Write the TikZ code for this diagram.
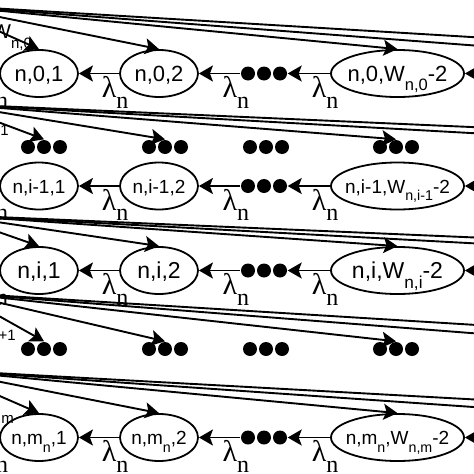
\documentclass[tikz,border=0pt]{standalone}
\usepackage{fontspec}
\setmainfont{Liberation Sans}
\newfontfamily\lamfont{Liberation Serif}
\usepackage{graphicx}
\usetikzlibrary{shapes.geometric,arrows.meta}
\newcommand\sbs[1]{\raisebox{-0.42em}[0pt][0pt]{\scalebox{0.75}{#1}}}
\newcommand\lamn{{\lamfont λ\raisebox{-0.36em}[0pt][0pt]{\scalebox{0.8}{n}}}}
\newcommand\wl[1]{W\raisebox{-10pt}[0pt][0pt]{\fontsize{15}{15}\selectfont #1}}

\begin{document}
\begin{tikzpicture}[
  x=1pt, y=-1pt,
  state/.style={ellipse, draw, line width=1.8pt, inner xsep=-30pt, inner ysep=-10pt,
    minimum width=78pt, minimum height=47pt, font=\fontsize{22}{24}\selectfont,
    text height=16pt, text depth=0pt},
  wide/.style={minimum width=133pt},
  small/.style={font=\fontsize{19}{21}\selectfont, text height=14pt},
  big/.style={font=\fontsize{23}{25}\selectfont, text height=16.5pt},
  dotrow/.style={minimum width=47pt, minimum height=15pt, inner sep=0pt,
    path picture={\fill ([xshift=-16pt]path picture bounding box.center) circle (7pt)
      (path picture bounding box.center) circle (7pt)
      ([xshift=16pt]path picture bounding box.center) circle (7pt);}},
  arr/.style={line width=1.9pt, -{Stealth[length=14pt,width=16pt,inset=3pt]}},
  lam/.style={anchor=north west, inner sep=2pt, font=\fontsize{30}{32}\selectfont},
  wlab/.style={font=\fontsize{20}{22}\selectfont, inner sep=0pt}
]
  \useasboundingbox (0,0) rectangle (474,474);
  \clip (0,0) rectangle (474,474);

  \node[state] (n01) at (39,73.5) {n,0,1};
  \node[state] (n02) at (159,73.5) {n,0,2};
  \node[dotrow] (d0) at (264,73.5) {};
  \node[state,wide] (n0w) at (397.5,73.5) {n,0,W\sbs{n,0}-2};

  \node[dotrow] (e1) at (44,147) {};
  \node[dotrow] (e2) at (165,147) {};
  \node[dotrow] (e3) at (266,147) {};
  \node[dotrow] (e4) at (396,147) {};

  \node[state,small] (a1) at (39,186) {n,i-1,1};
  \node[state,small] (a2) at (159,186) {n,i-1,2};
  \node[dotrow] (ad) at (264,186) {};
  \node[state,small,wide] (aw) at (397.5,186) {n,i-1,W\sbs{n,i-1}-2};

  \node[state,big] (b1) at (39,270.5) {n,i,1};
  \node[state,big] (b2) at (159,270.5) {n,i,2};
  \node[dotrow] (bd) at (264,270.5) {};
  \node[state,big,wide] (bw) at (397.5,270.5) {n,i,W\sbs{n,i}-2};

  \node[dotrow] (f1) at (44,349) {};
  \node[dotrow] (f2) at (165,349) {};
  \node[dotrow] (f3) at (266,349) {};
  \node[dotrow] (f4) at (396,349) {};

  \node[state,small] (c1) at (39,437.5) {n,m\sbs{n},1};
  \node[state,small] (c2) at (159,437.5) {n,m\sbs{n},2};
  \node[dotrow] (cd) at (264,437.5) {};
  \node[state,small,wide] (cw) at (397.5,437.5) {n,m\sbs{n},W\sbs{n,m}-2};

  \coordinate (l0) at (-42,73.5);
  \coordinate (r0) at (540,73.5);
  \coordinate (l1) at (-42,186);
  \coordinate (r1) at (540,186);
  \coordinate (l2) at (-42,270.5);
  \coordinate (r2) at (540,270.5);
  \coordinate (l3) at (-42,437.5);
  \coordinate (r3) at (540,437.5);

  \draw[arr] (n01) -- node[lam] {\lamn} (l0);
  \draw[arr] (n02) -- node[lam] {\lamn} (n01);
  \draw[arr] (d0) -- node[lam] {\lamn} (n02);
  \draw[arr] (n0w) -- node[lam] {\lamn} (d0);
  \draw[arr] (r0) -- (n0w);

  \draw[arr] (a1) -- node[lam] {\lamn} (l1);
  \draw[arr] (a2) -- node[lam] {\lamn} (a1);
  \draw[arr] (ad) -- node[lam] {\lamn} (a2);
  \draw[arr] (aw) -- node[lam] {\lamn} (ad);
  \draw[arr] (r1) -- (aw);

  \draw[arr] (b1) -- node[lam] {\lamn} (l2);
  \draw[arr] (b2) -- node[lam] {\lamn} (b1);
  \draw[arr] (bd) -- node[lam] {\lamn} (b2);
  \draw[arr] (bw) -- node[lam] {\lamn} (bd);
  \draw[arr] (r2) -- (bw);

  \draw[arr] (c1) -- node[lam] {\lamn} (l3);
  \draw[arr] (c2) -- node[lam] {\lamn} (c1);
  \draw[arr] (cd) -- node[lam] {\lamn} (c2);
  \draw[arr] (cw) -- node[lam] {\lamn} (cd);
  \draw[arr] (r3) -- (cw);

  \coordinate (sA) at (-60,5);
  \coordinate (tA1) at (560,52);
  \coordinate (tA2) at (720,52);
  \draw (sA) edge[arr] (n01.north) edge[arr] (n02.north) edge[arr] (n0w.north)
    edge[arr] (tA1) edge[arr] (tA2);

  \coordinate (sB) at (-50,104);
  \coordinate (tB1) at (560,138);
  \coordinate (tB2) at (720,138);
  \draw (sB) edge[arr] (e1.north) edge[arr] (e2.north) edge[arr] (e4.north)
    edge[arr] (tB1) edge[arr] (tB2);

  \coordinate (sC) at (-50,215);
  \coordinate (tC1) at (560,248);
  \coordinate (tC2) at (720,248);
  \draw (sC) edge[arr] (b1.north) edge[arr] (b2.north) edge[arr] (bw.north)
    edge[arr] (tC1) edge[arr] (tC2);

  \coordinate (sD) at (-42,293);
  \coordinate (tD1) at (560,340);
  \coordinate (tD2) at (720,340);
  \draw (sD) edge[arr] (f1.north) edge[arr] (f2.north) edge[arr] (f4.north)
    edge[arr] (tD1) edge[arr] (tD2);

  \coordinate (sE) at (-60,370);
  \coordinate (tE1) at (560,413);
  \coordinate (tE2) at (720,413);
  \draw (sE) edge[arr] (c1.north) edge[arr] (c2.north) edge[arr] (cw.north)
    edge[arr] (tE1) edge[arr] (tE2);

  \node[wlab, anchor=base west] (wA) at (-8,38) {\wl{n,0}};
  \node[wlab, anchor=base east] (wB) at (9,125) {\wl{n,i-1}};
  \node[wlab, anchor=base east] (wD) at (16,330) {\wl{n,i+1}};
  \node[wlab, anchor=base east] (wE) at (14,413) {\wl{n,m}};
\end{tikzpicture}
\end{document}
